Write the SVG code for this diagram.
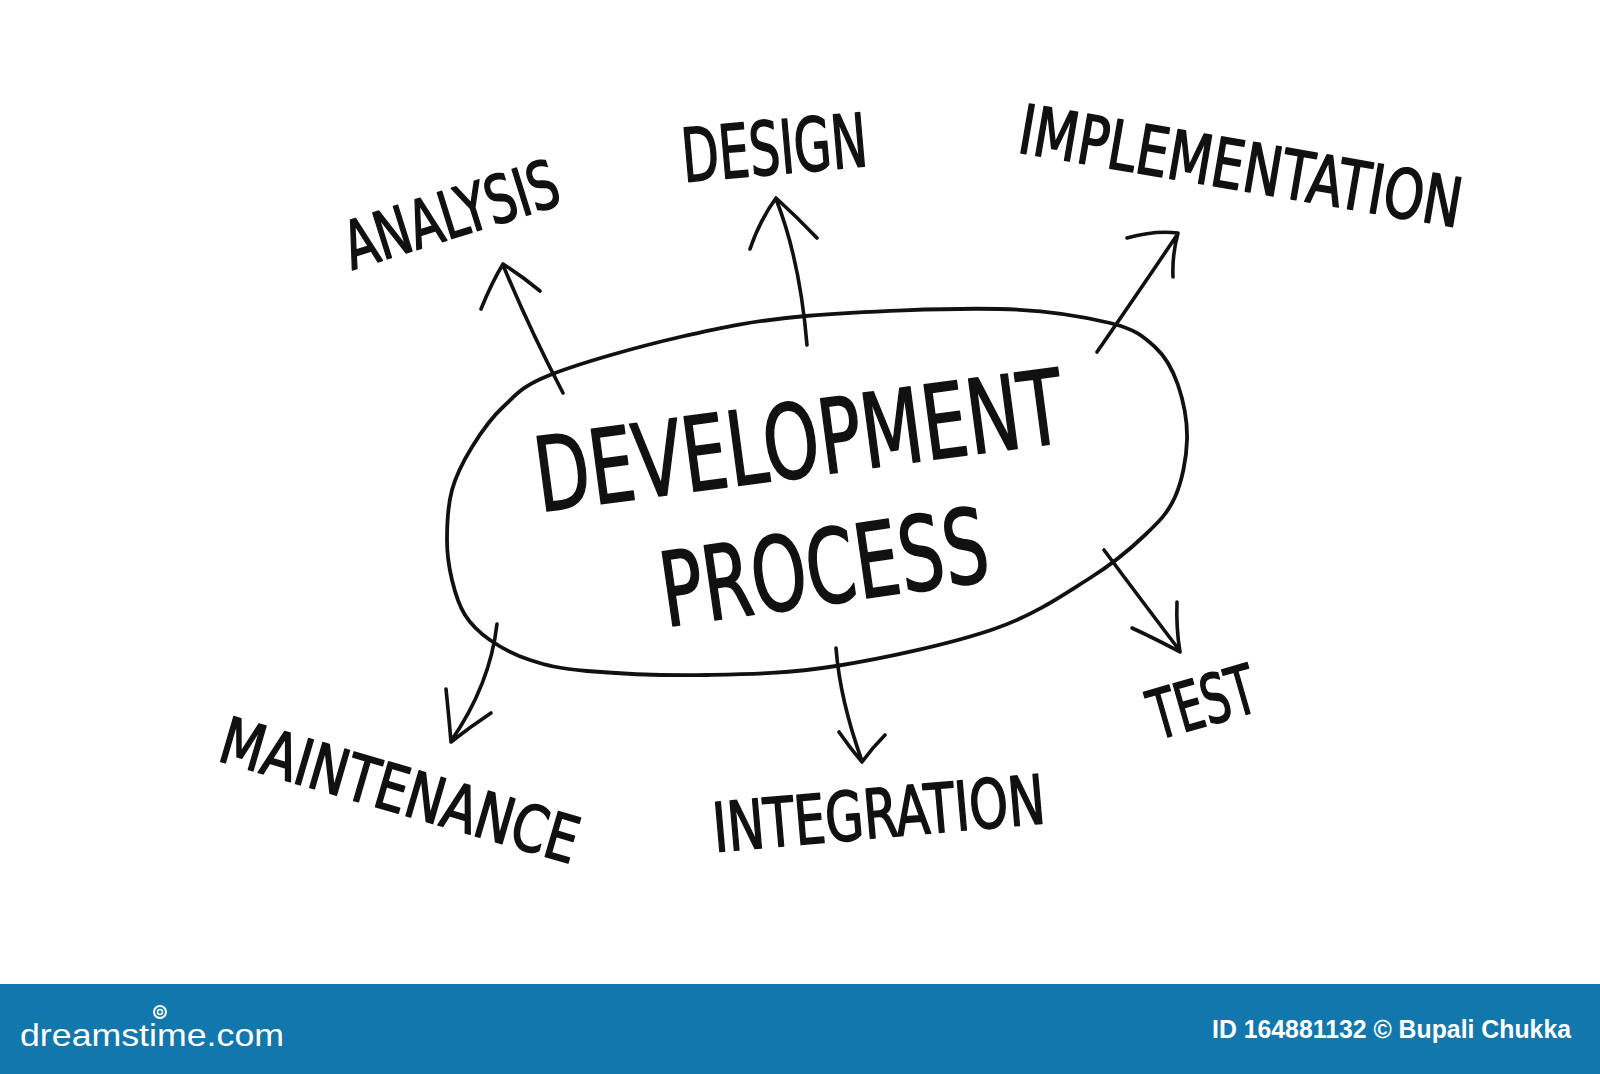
<svg xmlns="http://www.w3.org/2000/svg" width="1600" height="1074" viewBox="0 0 1600 1074">
<style>
.hand{font-family:"DejaVu Sans Condensed","DejaVu Sans","Liberation Sans",sans-serif;fill:#111;stroke:#111;stroke-width:1.6;stroke-linejoin:round;}
.ln{fill:none;stroke:#111;stroke-width:3.6;stroke-linecap:round;stroke-linejoin:round;}
.foot{font-family:"Liberation Sans",Arial,sans-serif;fill:#fff;}
</style>
<rect width="1600" height="1074" fill="#fff"/>
<g id="center">
<path class="ln" style="stroke-width:3.8" d="M447 540 C447 525 447.8 505.5 452 490 C456.2 474.5 463.5 460.8 472 447 C480.5 433.2 490 419 503 407 C516 395 520.5 386.7 550 375 C579.5 363.3 637.3 346.8 680 337 C722.7 327.2 752.7 320.7 806 316 C859.3 311.3 949.3 307.8 1000 309 C1050.7 310.2 1084.2 316.7 1110 323 C1135.8 329.3 1143.7 336.7 1155 347 C1166.3 357.3 1172.7 369.5 1178 385 C1183.3 400.5 1187.5 421.3 1187 440 C1186.5 458.7 1182 481.2 1175 497 C1168 512.8 1159.2 521.5 1145 535 C1130.8 548.5 1115.2 562.3 1090 578 C1064.8 593.7 1036.3 614.3 994 629 C951.7 643.7 883.8 658.3 836 666 C788.2 673.7 748.5 674.2 707 675 C665.5 675.8 616.5 673.5 587 671 C557.5 668.5 546.2 665.2 530 660 C513.8 654.8 500.8 647.5 490 640 C479.2 632.5 471.3 625 465 615 C458.7 605 455 592.5 452 580 C449 567.5 447 555 447 540 Z"/>
<text class="hand" font-size="103" transform="translate(540,512) rotate(-7.6)" textLength="532" lengthAdjust="spacingAndGlyphs">DEVELOPMENT</text>
<text class="hand" font-size="103" transform="translate(666,627) rotate(-8.2)" textLength="330" lengthAdjust="spacingAndGlyphs">PROCESS</text>
</g>
<g id="analysis"><text class="hand" font-size="66" transform="translate(352,270) rotate(-17.4)" textLength="222" lengthAdjust="spacingAndGlyphs">ANALYSIS</text></g>
<g id="design"><text class="hand" font-size="74" transform="translate(684,182) rotate(-5)" textLength="186" lengthAdjust="spacingAndGlyphs">DESIGN</text></g>
<g id="implementation"><text class="hand" font-size="68" transform="translate(1016,152) rotate(9.7)" textLength="448" lengthAdjust="spacingAndGlyphs">IMPLEMENTATION</text></g>
<g id="test"><text class="hand" font-size="68" transform="translate(1157,740) rotate(-16)" textLength="108" lengthAdjust="spacingAndGlyphs">TEST</text></g>
<g id="integration"><text class="hand" font-size="68" transform="translate(715,852) rotate(-5)" textLength="333" lengthAdjust="spacingAndGlyphs">INTEGRATION</text></g>
<g id="maintenance"><text class="hand" font-size="64" transform="translate(216,760) rotate(16.3)" textLength="370" lengthAdjust="spacingAndGlyphs">MAINTENANCE</text></g>
<g id="connectors">
<path class="ln" d="M563 393 Q530 330 503 265 M481 309 Q492 282 503 264 Q522 276 540 291"/>
<path class="ln" d="M807 345 Q800 260 776 199 M750 249 Q760 220 776 198 Q798 218 817 238"/>
<path class="ln" d="M1097 352 Q1140 290 1177 235 M1127 238 Q1155 230 1178 233 Q1172 255 1173 277"/>
<path class="ln" d="M1104 550 Q1145 605 1180 651 M1132 628 Q1158 640 1180 652 Q1176 628 1177 602"/>
<path class="ln" d="M836 648 Q840 700 862 761 M839 732 Q850 748 862 762 Q872 748 885 735"/>
<path class="ln" d="M497 624 Q490 685 451 741 M446 689 Q449 718 451 742 Q470 727 491 713"/>
</g>
<g id="footer">
<rect x="0" y="984" width="1600" height="90" fill="#1277ad"/>
<text class="foot" x="20" y="1046" font-size="32" textLength="264" lengthAdjust="spacingAndGlyphs">dreamstime.com</text>
<circle cx="160" cy="1012" r="6" fill="none" stroke="#fff" stroke-width="2"/>
<circle cx="160" cy="1012" r="2.5" fill="none" stroke="#fff" stroke-width="1.5"/>
<text class="foot" x="1212" y="1038" font-size="25" font-weight="bold" textLength="359" lengthAdjust="spacingAndGlyphs">ID 164881132 © Bupali Chukka</text>
</g>
</svg>
